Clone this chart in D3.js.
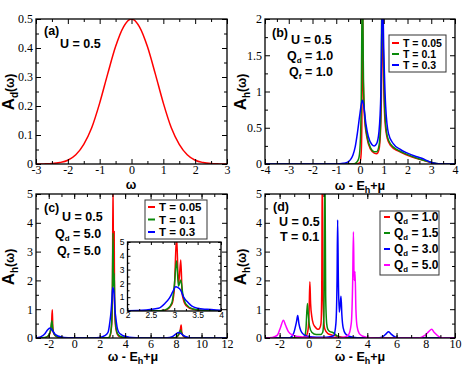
<!DOCTYPE html>
<html lang="en">
<head>
<meta charset="utf-8"/>
<title>Spectral functions</title>
<script src="https://d3js.org/d3.v7.min.js"></script>
<style>
  body { margin: 0; background: #fff; }
</style>
</head>
<body>
<script>
// ---- data ----
// (a) A_d(w), U = 0.5
var aOmega = [-3, -2.75, -2.5, -2.25, -2, -1.75, -1.5, -1.25, -1, -0.75, -0.5, -0.25, 0,
              0.25, 0.5, 0.75, 1, 1.25, 1.5, 1.75, 2, 2.25, 2.5, 2.75, 3];
var aValue = [0, 0.0004, 0.0015, 0.005, 0.013, 0.032, 0.068, 0.125, 0.21, 0.31, 0.405, 0.473, 0.5,
              0.473, 0.405, 0.31, 0.21, 0.125, 0.068, 0.032, 0.013, 0.005, 0.0015, 0.0004, 0];

// (b) A_h(w), Qd = Qf = 1.0, three temperatures
var bT005 = [[-4,0],[-0.2,0],[0,0.02],[0.05,0.15],[0.08,0.6],[0.1,3],[0.13,1.3],[0.2,0.6],[0.3,0.35],
             [0.45,0.2],[0.6,0.15],[0.7,0.14],[0.8,0.2],[0.87,0.5],[0.92,1.5],[0.95,4],[0.98,1.5],
             [1.05,0.6],[1.15,0.35],[1.3,0.25],[1.6,0.18],[2,0.12],[2.5,0.065],[3,0.02],[3.3,0.003],[4,0]];
var bT01  = [[-4,0],[-0.3,0],[-0.15,0.02],[-0.05,0.08],[0,0.22],[0.05,0.8],[0.1,2.5],[0.15,1.1],[0.2,0.65],
             [0.3,0.38],[0.45,0.22],[0.6,0.17],[0.7,0.17],[0.8,0.25],[0.87,0.6],[0.93,2.5],[0.98,1.6],
             [1.05,0.7],[1.15,0.38],[1.3,0.27],[1.6,0.19],[2,0.13],[2.5,0.07],[3,0.025],[3.3,0.005],[4,0]];
var bT03  = [[-4,0],[-1,0],[-0.7,0.01],[-0.5,0.03],[-0.4,0.06],[-0.3,0.12],[-0.2,0.24],[-0.1,0.45],[0,0.7],
             [0.1,0.88],[0.15,0.82],[0.25,0.55],[0.35,0.38],[0.5,0.27],[0.6,0.25],[0.7,0.28],[0.8,0.45],
             [0.88,1.0],[0.95,2.4],[1.0,1.6],[1.08,0.8],[1.2,0.42],[1.4,0.28],[1.7,0.2],[2,0.15],[2.3,0.11],
             [2.6,0.08],[2.8,0.05],[3,0.02],[3.3,0.004],[4,0]];

// (c) A_h(w), Qd = Qf = 5.0, three temperatures
var cT005 = [[-3,0],[-2.3,0.01],[-2,0.08],[-1.85,0.25],[-1.78,0.5],[-1.72,0.98],[-1.68,0.4],[-1.6,0.15],
             [-1.4,0.05],[-1,0.01],[0,0],[2.6,0],[2.8,0.05],[2.95,0.5],[3,1.5],[3.05,5.4],[3.09,2.0],
             [3.11,2.5],[3.14,3.7],[3.17,1.2],[3.25,0.4],[3.4,0.12],[3.6,0.04],[4,0.01],[5,0],[7.8,0],
             [8.1,0.05],[8.3,0.2],[8.4,0.45],[8.45,0.2],[8.6,0.05],[9,0],[12,0]];
var cT01  = [[-3,0],[-2.3,0.02],[-2,0.1],[-1.85,0.3],[-1.75,0.6],[-1.68,0.3],[-1.55,0.12],[-1.3,0.04],
             [-0.8,0.01],[0,0],[2.7,0.01],[2.85,0.15],[2.95,0.6],[3,1.8],[3.05,3.65],[3.09,1.8],[3.14,2.25],
             [3.18,1.3],[3.25,0.5],[3.4,0.15],[3.6,0.06],[4,0.02],[5,0],[7.8,0],[8.1,0.06],[8.25,0.18],
             [8.35,0.28],[8.45,0.15],[8.7,0.04],[9.2,0],[12,0]];
var cT03  = [[-3,0],[-2.9,0.01],[-2.6,0.05],[-2.3,0.15],[-2.1,0.28],[-1.9,0.35],[-1.7,0.25],[-1.5,0.13],
             [-1.2,0.06],[-0.8,0.02],[0,0.005],[1,0],[2,0.02],[2.4,0.08],[2.66,0.2],[2.8,0.55],[2.9,0.95],
             [2.97,1.4],[3.03,1.75],[3.08,1.7],[3.14,1.5],[3.2,1.0],[3.27,0.7],[3.37,0.37],[3.5,0.2],
             [3.7,0.12],[3.9,0.07],[4.3,0.03],[5,0.01],[6,0],[7.3,0.01],[7.7,0.05],[8,0.14],[8.2,0.19],
             [8.4,0.15],[8.6,0.08],[9,0.02],[9.5,0],[12,0]];

// (d) A_h(w), U = 0.5, T = 0.1, four charges
var dQ10 = [[-3,0],[-0.4,0],[-0.2,0.05],[-0.05,0.3],[0.02,1.0],[0.07,1.95],[0.12,1.2],[0.2,0.75],[0.3,0.5],
            [0.42,0.39],[0.55,0.32],[0.65,0.3],[0.75,0.35],[0.83,0.5],[0.88,1.5],[0.92,6],[0.96,2],
            [1.02,0.6],[1.1,0.3],[1.3,0.15],[1.6,0.1],[2,0.05],[2.4,0.02],[3,0],[10,0]];
var dQ15 = [[-3,0],[-0.5,0],[-0.3,0.05],[-0.2,0.3],[-0.1,1.2],[-0.05,0.9],[0.05,0.4],[0.2,0.2],[0.5,0.12],
            [0.8,0.12],[0.95,0.2],[1.03,0.8],[1.1,6],[1.15,1.5],[1.22,0.5],[1.3,0.3],[1.45,0.22],
            [1.6,0.2],[1.75,0.15],[1.9,0.08],[2.1,0.03],[2.5,0],[10,0]];
var dQ30 = [[-3,0],[-1.3,0.01],[-1.05,0.15],[-0.85,0.55],[-0.76,0.78],[-0.68,0.5],[-0.55,0.25],[-0.35,0.12],
            [0,0.05],[0.5,0.03],[1.2,0.03],[1.7,0.08],[1.85,0.5],[1.93,2.0],[1.97,4.1],[2.02,2.0],[2.08,0.9],
            [2.15,1.2],[2.2,1.45],[2.26,0.8],[2.35,0.35],[2.5,0.15],[2.8,0.05],[3.3,0.01],[4.5,0],[5,0.03],
            [5.3,0.15],[5.45,0.22],[5.6,0.15],[5.9,0.04],[6.3,0],[10,0]];
var dQ50 = [[-3,0],[-2.5,0.02],[-2.15,0.1],[-1.95,0.35],[-1.74,0.62],[-1.6,0.45],[-1.4,0.22],[-1.1,0.1],
            [-0.7,0.05],[0,0.02],[1,0.01],[2.3,0.02],[2.7,0.1],[2.9,0.5],[3,2.0],[3.05,3.69],[3.1,2.0],
            [3.16,2.3],[3.22,1.0],[3.3,0.4],[3.45,0.15],[3.7,0.06],[4.2,0.01],[5,0],[7.5,0],[7.9,0.08],
            [8.2,0.22],[8.4,0.3],[8.6,0.18],[8.9,0.05],[9.3,0],[10,0]];

// tick labels
var aXTicks = [-3, -2, -1, 0, 1, 2, 3];
var aYTicks = [0, 0.1, 0.2, 0.3, 0.4, 0.5];
var bXTicks = [-4, -3, -2, -1, 0, 1, 2, 3, 4];
var bYTicks = [0, 0.5, 1, 1.5, 2];
var cXTicks = [-2, 0, 2, 4, 6, 8, 10, 12];
var cYTicks = [0, 1, 2, 3, 4, 5];
var insetXTicks = [2, 2.5, 3, 3.5, 4];
var dXTicks = [-2, 0, 2, 4, 6, 8, 10];
var dYTicks = [0, 1, 2, 3, 4, 5];

var tLabels = ["T = 0.05", "T = 0.1", "T = 0.3"];
var qLabels = ["1.0", "1.5", "3.0", "5.0"];

var red = "#ff0000", green = "#0a8a0a", blue = "#0000ff", magenta = "#ff00ff";

// ---- drawing ----
var w = 474, h = 366;
var serif = "'Liberation Serif', 'Times New Roman', serif";
var sans = "'Liberation Sans', Arial, sans-serif";

var svg = d3.select("body").append("svg")
    .attr("width", w)
    .attr("height", h)
    .style("display", "block");

svg.append("rect").attr("width", w).attr("height", h).attr("fill", "#fff");

var clipCount = 0;

function fmt(d) { return String(d); }

function panel(cfg) {
    var g = svg.append("g");
    var x = d3.scaleLinear().domain(cfg.xd).range([cfg.l, cfg.r]);
    var y = d3.scaleLinear().domain(cfg.yd).range([cfg.b, cfg.t]);

    if (cfg.bg) {
        g.append("rect").attr("x", cfg.l).attr("y", cfg.t)
            .attr("width", cfg.r - cfg.l).attr("height", cfg.b - cfg.t)
            .attr("fill", "#fff");
    }

    var id = "clip" + (clipCount++);
    g.append("clipPath").attr("id", id).append("rect")
        .attr("x", cfg.l).attr("y", cfg.t)
        .attr("width", cfg.r - cfg.l).attr("height", cfg.b - cfg.t);

    var line = d3.line()
        .x(function(d) { return x(d[0]); })
        .y(function(d) { return y(d[1]); })
        .curve(d3.curveMonotoneX);

    var lines = g.append("g").attr("clip-path", "url(#" + id + ")");
    cfg.series.forEach(function(s) {
        lines.append("path")
            .attr("d", line(s.data))
            .attr("fill", "none")
            .attr("stroke", s.color)
            .attr("stroke-width", cfg.lw || 1.5)
            .attr("stroke-linejoin", "round");
    });

    var L = cfg.tick || 5, Lm = cfg.minor || 3;
    var fs = cfg.fs || 12, ff = cfg.ff || serif;

    function tidy(sel) {
        sel.select(".domain").remove();
        sel.selectAll("text").style("font-family", ff).style("font-size", fs + "px");
        sel.selectAll("line").attr("stroke-width", 1);
    }

    // bottom
    g.append("g").attr("transform", "translate(0," + cfg.b + ")")
        .call(d3.axisBottom(x).tickValues(cfg.xt).tickSize(-L).tickPadding(cfg.pad || 1).tickFormat(fmt))
        .call(tidy);
    g.append("g").attr("transform", "translate(0," + cfg.b + ")")
        .call(d3.axisBottom(x).tickValues(cfg.xm).tickSize(-Lm).tickFormat(""))
        .call(tidy);
    // top
    g.append("g").attr("transform", "translate(0," + cfg.t + ")")
        .call(d3.axisTop(x).tickValues(cfg.xt).tickSize(-L).tickFormat(""))
        .call(tidy);
    g.append("g").attr("transform", "translate(0," + cfg.t + ")")
        .call(d3.axisTop(x).tickValues(cfg.xm).tickSize(-Lm).tickFormat(""))
        .call(tidy);
    // left
    g.append("g").attr("transform", "translate(" + cfg.l + ",0)")
        .call(d3.axisLeft(y).tickValues(cfg.yt).tickSize(-L).tickPadding(3).tickFormat(fmt))
        .call(tidy);
    g.append("g").attr("transform", "translate(" + cfg.l + ",0)")
        .call(d3.axisLeft(y).tickValues(cfg.ym).tickSize(-Lm).tickFormat(""))
        .call(tidy);
    // right
    g.append("g").attr("transform", "translate(" + cfg.r + ",0)")
        .call(d3.axisRight(y).tickValues(cfg.yt).tickSize(-L).tickFormat(""))
        .call(tidy);
    g.append("g").attr("transform", "translate(" + cfg.r + ",0)")
        .call(d3.axisRight(y).tickValues(cfg.ym).tickSize(-Lm).tickFormat(""))
        .call(tidy);

    g.append("rect").attr("x", cfg.l).attr("y", cfg.t)
        .attr("width", cfg.r - cfg.l).attr("height", cfg.b - cfg.t)
        .attr("fill", "none").attr("stroke", "#000").attr("stroke-width", 1.3);

    return g;
}

function yTitle(px, py, sub) {
    var t = svg.append("text")
        .attr("transform", "translate(" + px + "," + py + ") rotate(-90)")
        .attr("text-anchor", "middle")
        .attr("font-family", sans).attr("font-weight", "bold");
    t.append("tspan").attr("font-size", 17).text("A");
    t.append("tspan").attr("font-size", 10).attr("dy", 4).text(sub);
    t.append("tspan").attr("font-size", 12).attr("dy", -4).text("(ω)");
}

function xTitle(px, py, plain) {
    var t = svg.append("text")
        .attr("x", px).attr("y", py)
        .attr("text-anchor", "middle")
        .attr("font-family", sans).attr("font-weight", "bold").attr("font-size", 12.5);
    if (plain) { t.text("ω"); return; }
    t.append("tspan").text("ω - E");
    t.append("tspan").attr("font-size", 9).attr("dy", 3).text("h");
    t.append("tspan").attr("dy", -3).text("+μ");
}

// note: items are [text, subscript, rest]
function note(px, py, parts) {
    var t = svg.append("text").attr("x", px).attr("y", py)
        .attr("font-family", sans).attr("font-weight", "bold").attr("font-size", 12.5);
    t.append("tspan").text(parts[0]);
    if (parts.length > 1) {
        t.append("tspan").attr("font-size", 8).attr("dy", 3).text(parts[1]);
        t.append("tspan").attr("dy", -3).text(parts[2]);
    }
}

function legend(bx, by, bw, bh, items, fsz, rowY, lineX, textX) {
    var g = svg.append("g");
    g.append("rect").attr("x", bx).attr("y", by).attr("width", bw).attr("height", bh)
        .attr("fill", "#fff").attr("stroke", "#333").attr("stroke-width", 1);
    items.forEach(function(it, i) {
        var yy = rowY[i];
        g.append("line").attr("x1", lineX[0]).attr("x2", lineX[1])
            .attr("y1", yy).attr("y2", yy)
            .attr("stroke", it.color).attr("stroke-width", 2);
        var t = g.append("text").attr("x", textX).attr("y", yy).attr("dy", "0.36em")
            .attr("font-family", sans).attr("font-weight", "bold").attr("font-size", fsz);
        if (it.sub) {
            t.append("tspan").text("Q");
            t.append("tspan").attr("font-size", fsz * 0.65).attr("dy", 3).text("d");
            t.append("tspan").attr("dy", -3).text(" = " + it.label);
        } else {
            t.text(it.label);
        }
    });
}

// panel (a)
panel({
    l: 36, r: 227, t: 19, b: 164, xd: [-3, 3], yd: [0, 0.5],
    xt: aXTicks, xm: d3.range(-2.5, 3, 1),
    yt: aYTicks, ym: d3.range(0.05, 0.5, 0.1),
    series: [{ data: aOmega.map(function(d, i) { return [d, aValue[i]]; }), color: red }]
});
yTitle(14, 92, "d");
xTitle(131, 189, true);
note(44, 35, ["(a)"]);
note(60, 48, ["U = 0.5"]);

// panel (b)
panel({
    l: 265, r: 455, t: 19, b: 164, xd: [-4, 4], yd: [0, 2],
    xt: bXTicks, xm: d3.range(-3.5, 4, 1),
    yt: bYTicks, ym: d3.range(0.25, 2, 0.5),
    series: [{ data: bT005, color: red }, { data: bT01, color: green }, { data: bT03, color: blue }]
});
yTitle(246, 92, "h");
xTitle(360, 190, false);
note(272, 37, ["(b)"]);
note(291, 44, ["U = 0.5"]);
note(287, 60, ["Q", "d", " = 1.0"]);
note(289, 76, ["Q", "f", " = 1.0"]);
legend(389, 35, 57, 37,
    [{ label: tLabels[0], color: red }, { label: tLabels[1], color: green }, { label: tLabels[2], color: blue }],
    10.5, [43, 54, 65], [392, 399], 403);

// panel (c)
panel({
    l: 36, r: 227, t: 194, b: 338, xd: [-3, 12], yd: [0, 5],
    xt: cXTicks, xm: d3.range(-3, 12, 1),
    yt: cYTicks, ym: d3.range(0.5, 5, 1),
    series: [{ data: cT005, color: red }, { data: cT01, color: green }, { data: cT03, color: blue }]
});
yTitle(14, 267, "h");
xTitle(133, 361, false);
note(44, 212, ["(c)"]);
note(62, 221, ["U = 0.5"]);
note(55, 238, ["Q", "d", " = 5.0"]);
note(57, 255, ["Q", "f", " = 5.0"]);
legend(145, 200, 62, 39,
    [{ label: tLabels[0], color: red }, { label: tLabels[1], color: green }, { label: tLabels[2], color: blue }],
    11.5, [207, 219.5, 232], [148, 155], 159);

// inset of (c)
panel({
    l: 127.5, r: 221, t: 242, b: 311, xd: [2, 4], yd: [0, 5], bg: true,
    xt: insetXTicks, xm: d3.range(2.25, 4, 0.5),
    yt: cYTicks, ym: d3.range(0.5, 5, 1),
    tick: 3, minor: 2, fs: 8.5, ff: sans, pad: 1, lw: 1.5,
    series: [{ data: cT005, color: red }, { data: cT01, color: green }, { data: cT03, color: blue }]
});

// panel (d)
panel({
    l: 265, r: 455, t: 194, b: 338, xd: [-3, 10], yd: [0, 5],
    xt: dXTicks, xm: d3.range(-3, 10, 1),
    yt: dYTicks, ym: d3.range(0.5, 5, 1),
    series: [{ data: dQ10, color: red }, { data: dQ15, color: green },
             { data: dQ30, color: blue }, { data: dQ50, color: magenta }]
});
yTitle(246, 267, "h");
xTitle(360, 361, false);
note(273, 211, ["(d)"]);
note(279, 226, ["U = 0.5"]);
note(280, 241, ["T = 0.1"]);
legend(380, 211, 59, 64,
    [{ label: qLabels[0], color: red, sub: true }, { label: qLabels[1], color: green, sub: true },
     { label: qLabels[2], color: blue, sub: true }, { label: qLabels[3], color: magenta, sub: true }],
    12, [217, 233, 249, 265], [384, 390], 394);
</script>
</body>
</html>
